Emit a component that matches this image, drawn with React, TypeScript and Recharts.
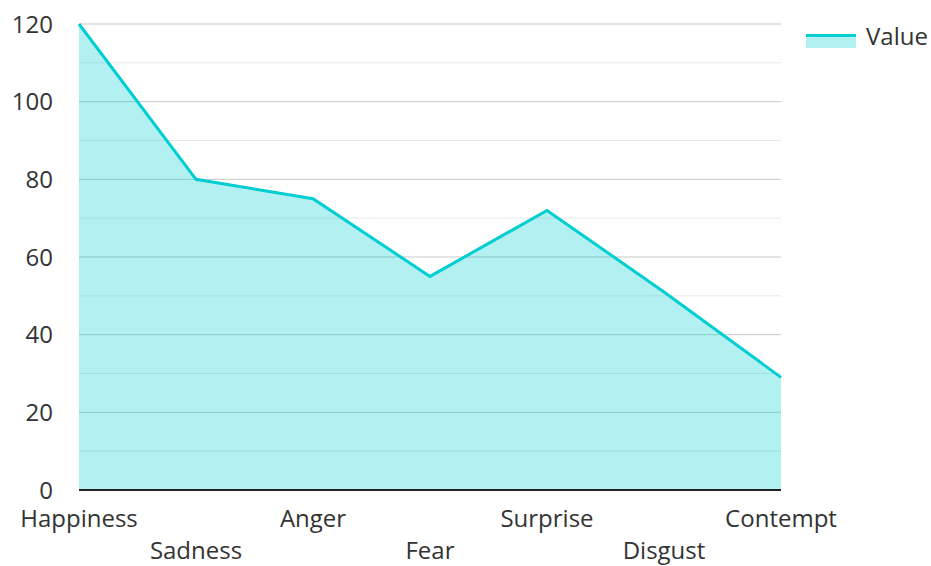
import React from "react";
import {
  AreaChart,
  Area,
  XAxis,
  YAxis,
  CartesianGrid,
} from "recharts";

const emotions = ["Happiness", "Sadness", "Anger", "Fear", "Surprise", "Disgust", "Contempt"];
const values = [120, 80, 75, 55, 72, 51, 29];
const majorTicks = [0, 20, 40, 60, 80, 100, 120];
const minorTicks = [10, 30, 50, 70, 90, 110];

const data = emotions.map((name, i) => ({ name, value: values[i] }));

const COLOR = "#00CED1";
const FONT = "'Open Sans', 'Noto Sans', sans-serif";
const TEXT = "#333";
const Y_MAX = majorTicks[majorTicks.length - 1];

// labels alternate between two rows so they don't collide
const EmotionTick = (props: any) => {
  const { x, y, payload, index } = props;
  return (
    <text
      x={x}
      y={y}
      dy={index % 2 === 1 ? 61 : 29}
      textAnchor="middle"
      fill={TEXT}
      fontSize={24}
      fontFamily={FONT}
    >
      {payload.value}
    </text>
  );
};

const LegendBox = () => (
  <svg width={140} height={40} style={{ position: "absolute", left: 800, top: 16 }}>
    <rect x={6} y={21} width={50} height={11} fill={COLOR} fillOpacity={0.3} />
    <line x1={6} x2={56} y1={19.5} y2={19.5} stroke={COLOR} strokeWidth={3} />
    <text x={66} y={20} dy="0.355em" fill={TEXT} fontSize={24} fontFamily={FONT}>
      Value
    </text>
  </svg>
);

// minor grid positions from the plot offset (linear axis 0..Y_MAX)
const minorLines = ({ yAxis, offset }: any) => {
  if (yAxis && typeof yAxis.scale === "function") {
    return minorTicks.map((t) => yAxis.scale(t));
  }
  const top = offset?.top ?? 24;
  const h = offset?.height ?? 466;
  return minorTicks.map((t) => top + h * (1 - t / Y_MAX));
};

export default function App() {
  return (
    <div style={{ position: "absolute", left: 0, top: 0, width: 931, height: 566, background: "#fff" }}>
      <AreaChart
        width={931}
        height={566}
        data={data}
        margin={{ top: 24, right: 150, left: 0, bottom: 16 }}
      >
        {/* minor lines every 10, major every 20, both under the area */}
        <CartesianGrid
          stroke="#e8e8e8"
          vertical={false}
          horizontalCoordinatesGenerator={minorLines}
        />
        <CartesianGrid stroke="#c8c8c8" vertical={false} />
        <XAxis
          dataKey="name"
          height={60}
          interval={0}
          tick={<EmotionTick />}
          tickLine={false}
          axisLine={{ stroke: "#222", strokeWidth: 2 }}
        />
        <YAxis
          width={79}
          domain={[0, Y_MAX]}
          ticks={majorTicks}
          axisLine={false}
          tickLine={false}
          tickSize={0}
          tickMargin={26}
          tick={{ fill: TEXT, fontSize: 24, fontFamily: FONT }}
        />
        <Area
          type="linear"
          dataKey="value"
          stroke={COLOR}
          strokeWidth={3}
          fill={COLOR}
          fillOpacity={0.3}
          dot={false}
          activeDot={false}
          isAnimationActive={false}
        />
      </AreaChart>
      <LegendBox />
    </div>
  );
}
